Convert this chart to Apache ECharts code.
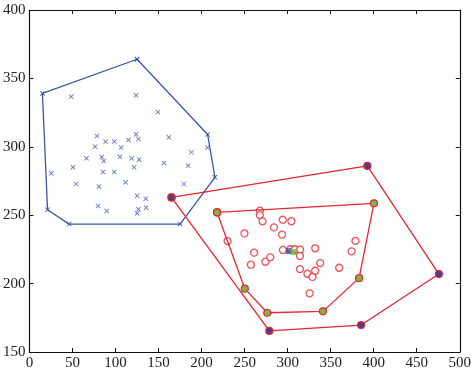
<!DOCTYPE html>
<html>
<head>
<meta charset="utf-8">
<script src="https://cdn.jsdelivr.net/npm/echarts@6/dist/echarts.min.js"></script>
<style>html,body{margin:0;padding:0;background:#fff}#c{width:474px;height:374px}</style>
</head>
<body>
<div id="c"></div>
<script>
const xTicks = [0, 50, 100, 150, 200, 250, 300, 350, 400, 450, 500];
const yTicks = [150, 200, 250, 300, 350, 400];

const blueHull = [[125,364],[207,309],[215.5,277.7],[175,243.5],[46,243.5],[21,254],[15,339],[125,364]];
const bluePoints = [
  [48.5,336.7],[123.9,337.6],[149.3,325.4],[78.5,307.9],[123.9,309.1],[126.6,305.7],[115.1,305.0],
  [88.5,303.8],[98.5,303.8],[162.0,306.9],[76.2,300.1],[106.6,299.4],[188.2,296.0],[206.7,299.4],
  [66.2,291.6],[83.9,292.5],[86.2,289.6],[105.1,292.8],[118.6,291.6],[127.4,290.6],[50.4,285.0],
  [121.6,285.0],[156.3,288.2],[184.4,286.2],[25.4,280.6],[85.5,281.6],[98.5,281.6],[54.3,272.8],
  [80.8,270.9],[111.6,274.0],[179.4,272.8],[125.1,264.3],[135.1,262.1],[79.7,256.7],[89.7,253.1],
  [126.6,254.3],[135.5,255.5],[125.1,251.4]
];
const redOuterHull = [[165,263],[392.6,286],[475.8,207],[385.3,169.7],[278.7,165.4],[165,263]];
const redInnerHull = [[218,252],[400.3,258.7],[383,204],[341,179.7],[276.3,178.7],[250.2,196.3],[218,252]];
const redPoints = [
  [230.2,231.1],[249.8,236.7],[257.3,213.8],[261.0,222.6],[267.7,253.3],[267.7,250.1],[270.8,245.5],
  [274.2,216.0],[279.8,219.2],[284.1,241.1],[293.5,235.8],[294.3,246.7],[304.3,245.6],[294.5,224.6],
  [303.3,225.1],[308.3,225.1],[314.5,224.8],[314.3,220.2],[314.3,210.6],[323.0,207.2],[328.9,204.9],
  [332.0,209.4],[332.0,225.8],[337.8,215.0],[325.6,192.9],[359.9,211.6],[374.3,223.6],[378.8,231.2]
];
const blueCentroid = [[301.4,223.8]];
const greenCentroid = [[306.8,223.1]];

const BLUE = '#3A55A4', RED = '#E5252F';
const cross = 'path://M0,1.2L1.2,0L5,3.8L8.8,0L10,1.2L6.2,5L10,8.8L8.8,10L5,6.2L1.2,10L0,8.8L3.8,5Z';
const font = {fontFamily: 'Liberation Serif', fontSize: 15, color: '#222'};

const chart = echarts.init(document.getElementById('c'), null, {renderer: 'canvas'});
const axisCommon = {
  type: 'value', interval: 50,
  axisLine: {show: true, onZero: false, lineStyle: {color: '#111', width: 1.2}},
  axisTick: {show: true, inside: true, length: 4, lineStyle: {color: '#111'}},
  splitLine: {show: false}
};
chart.setOption({
  animation: false,
  grid: {left: 28, right: 13, top: 10, bottom: 22},
  xAxis: [
    Object.assign({}, axisCommon, {min: xTicks[0], max: xTicks[xTicks.length-1], position: 'bottom',
      axisLabel: Object.assign({margin: 4}, font)}),
    Object.assign({}, axisCommon, {min: xTicks[0], max: xTicks[xTicks.length-1], position: 'top',
      axisLabel: {show: false}})
  ],
  yAxis: [
    Object.assign({}, axisCommon, {min: yTicks[0], max: yTicks[yTicks.length-1], position: 'left',
      axisLabel: Object.assign({margin: 4}, font)}),
    Object.assign({}, axisCommon, {min: yTicks[0], max: yTicks[yTicks.length-1], position: 'right',
      axisLabel: {show: false}})
  ],
  series: [
    {type: 'scatter', data: bluePoints, symbol: cross, symbolSize: 5, itemStyle: {color: BLUE}},
    {type: 'line', data: blueHull, symbol: cross, symbolSize: 5, showAllSymbol: true,
      lineStyle: {color: BLUE, width: 1.3}, itemStyle: {color: BLUE}},
    {type: 'line', data: redOuterHull, symbol: 'circle', symbolSize: 7, showAllSymbol: true,
      lineStyle: {color: RED, width: 1.3}, itemStyle: {color: '#4A3E8E', borderColor: RED, borderWidth: 1.2}},
    {type: 'line', data: redInnerHull, symbol: 'circle', symbolSize: 7, showAllSymbol: true,
      lineStyle: {color: RED, width: 1.3}, itemStyle: {color: '#7DB544', borderColor: RED, borderWidth: 1.2}},
    {type: 'scatter', data: redPoints, symbol: 'circle', symbolSize: 7,
      itemStyle: {color: '#fff', borderColor: RED, borderWidth: 1.3}},
    {type: 'scatter', data: blueCentroid, symbol: 'rect', symbolSize: 6, itemStyle: {color: '#3A55A4'}},
    {type: 'scatter', data: greenCentroid, symbol: 'rect', symbolSize: 6, itemStyle: {color: '#72B73F'}}
  ]
});
</script>
</body>
</html>
